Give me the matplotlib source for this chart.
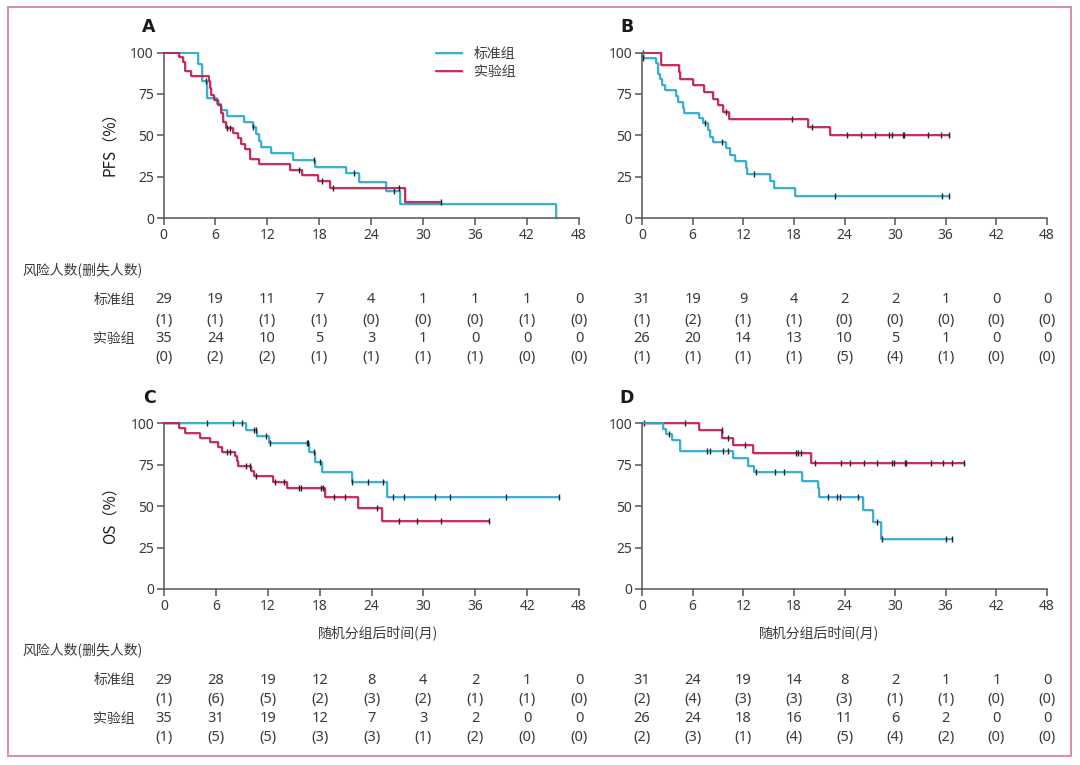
import matplotlib
matplotlib.use("Agg")
import matplotlib.pyplot as plt
import matplotlib.patheffects as pe
from matplotlib import font_manager
from matplotlib.patches import Rectangle
from matplotlib.transforms import blended_transform_factory
import numpy as np

W, H = 1080, 765
CJK = "Noto Sans CJK SC"
NUM = "Noto Sans"
_installed = {f.name for f in font_manager.fontManager.ttflist}
NARROW = "Liberation Sans Narrow" if "Liberation Sans Narrow" in _installed else NUM

CYAN = "#2aaad0"
RED = "#c51d4f"
INK = "#3a3a3a"
GROUPS = ["标准组", "实验组"]
MONTH_TICKS = [0, 6, 12, 18, 24, 30, 36, 42, 48]
PCT_TICKS = [0, 25, 50, 75, 100]

# --- A: PFS ---
a_std_t = [0, 3.95, 4.45, 5.0, 6.2, 6.7, 7.3, 9.3, 10.3, 10.65, 11.03, 11.26, 12.38, 15.0, 17.5, 21.08, 22.6, 25.7, 27.3, 45.3]
a_std_s = [100, 93.1, 82.8, 72.4, 68.9, 65.5, 61.9, 58.2, 55.0, 50.6, 46.5, 43.1, 39.1, 35.0, 31.0, 27.0, 21.5, 16.3, 8.2, 0]
a_std_cens = [4.9, 10.3, 17.4, 22.0, 26.6]
a_exp_t = [0, 1.79, 2.29, 2.48, 3.14, 5.2, 5.37, 5.49, 5.87, 6.26, 6.6, 6.91, 7.18, 7.99, 8.57, 8.91, 9.41, 9.99,
           11.03, 14.61, 15.96, 17.89, 19.23, 27.9, 32.1]
a_exp_s = [100, 97.1, 94.3, 88.6, 85.7, 82.8, 78.3, 74.3, 71.4, 68.3, 63.2, 58.2, 54.6, 51.6, 48.1, 44.7, 41.5, 35.4,
           32.6, 29.0, 26.0, 22.6, 17.9, 9.5, 9.5]
a_exp_cens = [7.35, 7.7, 15.7, 18.3, 19.6, 27.2, 32.1]

# --- B: PFS ---
b_std_t = [0, 0.1, 1.66, 1.93, 2.1, 2.33, 2.72, 4.03, 4.3, 4.9, 5.0, 6.8, 7.27, 7.86, 8.06, 8.4, 9.96, 10.4, 11.0,
           12.33, 12.5, 15.17, 15.6, 18.13, 36.4]
b_std_s = [100, 96.8, 93.5, 87.1, 83.9, 80.6, 77.4, 73.5, 70.0, 66.5, 63.2, 60.6, 57.2, 53.2, 49.2, 45.7, 42.1, 38.1,
           34.4, 30.4, 26.8, 22.5, 17.9, 13.3, 13.3]
b_std_cens = [0.15, 7.45, 9.45, 13.3, 22.9, 35.6, 36.4]
b_exp_t = [0, 2.21, 4.35, 4.5, 6.08, 7.35, 8.45, 9.0, 9.64, 10.27, 19.7, 22.3, 36.4]
b_exp_s = [100, 92.3, 88.2, 84.1, 80.1, 76.1, 72.0, 68.0, 63.9, 59.8, 55.2, 50.2, 50.2]
b_exp_cens = [0.15, 10.0, 17.8, 20.2, 24.3, 26.0, 27.6, 29.3, 29.6, 30.9, 31.0, 33.9, 35.4, 36.4]

# --- C: OS ---
c_std_t = [0, 9.48, 10.7, 12.1, 16.8, 17.47, 18.27, 21.7, 25.75, 45.7]
c_std_s = [100, 96.0, 92.3, 87.9, 82.5, 76.8, 70.4, 64.4, 55.7, 55.7]
c_std_cens = [5.0, 8.0, 9.0, 10.4, 10.6, 11.8, 12.3, 16.5, 16.65, 17.3, 18.1, 21.8, 23.6, 25.3, 26.5, 27.8,
              31.3, 33.1, 39.6, 45.7]
c_exp_t = [0, 1.73, 2.43, 4.16, 5.32, 6.2, 6.67, 8.2, 8.4, 8.6, 10.1, 10.45, 12.65, 14.26, 18.6, 22.4, 25.2, 37.6]
c_exp_s = [100, 97.1, 94.2, 91.3, 88.5, 85.6, 82.8, 80.0, 77.1, 74.3, 71.4, 68.1, 64.8, 61.2, 55.7, 48.7, 41.0, 41.0]
c_exp_cens = [7.3, 7.6, 9.5, 9.9, 10.6, 12.8, 13.9, 15.65, 15.9, 18.2, 18.4, 19.7, 20.9, 24.6, 27.2, 29.3,
              32.0, 37.6]

# --- D: OS ---
d_std_t = [0, 2.53, 2.9, 3.6, 4.5, 10.8, 12.6, 13.3, 19.0, 20.9, 21.0, 26.2, 27.4, 28.3, 36.7]
d_std_s = [100, 96.8, 93.5, 90.0, 83.3, 78.9, 74.5, 70.4, 65.4, 60.7, 55.7, 47.7, 40.2, 30.0, 30.0]
d_std_cens = [3.24, 7.7, 8.1, 9.6, 10.2, 13.5, 15.8, 16.8, 22.0, 23.1, 23.5, 25.6, 27.9, 28.4, 36.0, 36.7]
d_exp_t = [0, 6.8, 9.52, 10.75, 13.2, 20.0, 38.2]
d_exp_s = [100, 96.0, 91.3, 86.9, 81.9, 76.3, 76.3]
d_exp_cens = [0.2, 5.1, 9.45, 10.2, 12.2, 18.2, 18.5, 18.8, 20.5, 23.6, 24.6, 26.3, 27.9, 29.6, 29.9, 31.2,
              31.3, 34.2, 35.7, 36.7, 38.2]

# --- numbers at risk (censored) ---
a_risk_std = [29, 19, 11, 7, 4, 1, 1, 1, 0]
a_cens_std = [1, 1, 1, 1, 0, 0, 0, 1, 0]
a_risk_exp = [35, 24, 10, 5, 3, 1, 0, 0, 0]
a_cens_exp = [0, 2, 2, 1, 1, 1, 1, 0, 0]
b_risk_std = [31, 19, 9, 4, 2, 2, 1, 0, 0]
b_cens_std = [1, 2, 1, 1, 0, 0, 0, 0, 0]
b_risk_exp = [26, 20, 14, 13, 10, 5, 1, 0, 0]
b_cens_exp = [1, 1, 1, 1, 5, 4, 1, 0, 0]
c_risk_std = [29, 28, 19, 12, 8, 4, 2, 1, 0]
c_cens_std = [1, 6, 5, 2, 3, 2, 1, 1, 0]
c_risk_exp = [35, 31, 19, 12, 7, 3, 2, 0, 0]
c_cens_exp = [1, 5, 5, 3, 3, 1, 2, 0, 0]
d_risk_std = [31, 24, 19, 14, 8, 2, 1, 1, 0]
d_cens_std = [2, 4, 3, 3, 3, 1, 1, 0, 0]
d_risk_exp = [26, 24, 18, 16, 11, 6, 2, 0, 0]
d_cens_exp = [2, 3, 1, 4, 5, 4, 2, 0, 0]


def fx(x):
    return x / W


def fy(y):
    return 1 - y / H


def km_curve(ax, t, s, cens, color, label):
    line, = ax.plot(t, s, drawstyle="steps-post", color=color, lw=1.3, clip_on=False, label=label,
                    path_effects=[pe.SimpleLineShadow(offset=(0.7, -0.7), shadow_color=color, alpha=0.3),
                                  pe.Normal()])
    t_arr, s_arr = np.asarray(t), np.asarray(s)
    idx = np.searchsorted(t_arr, cens, side="right") - 1
    ax.plot(cens, s_arr[idx], ls="none", marker="|", ms=4.5, mew=1.0, color="#222222", clip_on=False)
    return line


def panel(fig, box, letter, ylabel, curves, xlabel_x=None):
    x0, x1, ytop, ybot = box
    ax = fig.add_axes([fx(x0), fy(ybot), fx(x1 - x0), (ybot - ytop) / H])
    lines = [km_curve(ax, *c) for c in curves]
    ax.set_xlim(0, 48)
    ax.set_ylim(0, 100)
    ax.set_xticks(MONTH_TICKS)
    ax.set_yticks(PCT_TICKS)
    for side in ("top", "right"):
        ax.spines[side].set_visible(False)
    for side in ("left", "bottom"):
        ax.spines[side].set_color("#555555")
        ax.spines[side].set_linewidth(1.1)
    ax.tick_params(length=5, width=1.1, color="#555555", labelcolor=INK, labelsize=10, pad=2)
    for lab in ax.get_xticklabels() + ax.get_yticklabels():
        lab.set_family(NUM)
    fig.text(fx(x0 - 15), fy(ytop - 25), letter, fontsize=12.5, fontweight="bold", family="DejaVu Sans",
             ha="center", va="center", color="#1a1a1a")
    if ylabel:
        fig.text(fx(110), fy((ytop + ybot) / 2 + 5), ylabel, rotation=90, fontsize=11, family=[CJK],
                 ha="center", va="center", color="#1a1a1a")
    if xlabel_x is not None:
        fig.text(fx(xlabel_x), fy(633), "随机分组后时间(月)", fontsize=10, family=[CJK],
                 ha="center", va="center", color=INK)
    return ax, lines


def risk_table(fig, ax, rows_y, risk_std, cens_std, risk_exp, cens_exp):
    tr = blended_transform_factory(ax.transData, fig.transFigure)
    rows = [risk_std, [f"({v})" for v in cens_std], risk_exp, [f"({v})" for v in cens_exp]]
    for y, row in zip(rows_y, rows):
        for m, v in zip(MONTH_TICKS, row):
            fig.text(m, fy(y), str(v), transform=tr, ha="center", va="center", fontsize=10.5,
                     family=NARROW, color=INK)


def table_labels(fig, header_y, rows_y):
    fig.text(fx(22), fy(header_y), "风险人数(删失人数)", fontsize=10, family=[CJK], ha="left",
             va="center", color=INK)
    for name, y in zip(GROUPS, (rows_y[0], rows_y[2])):
        fig.text(fx(135), fy(y), name, fontsize=10, family=[CJK], ha="right", va="center", color=INK)


fig = plt.figure(figsize=(W / 100, H / 100), dpi=100)

ax_a, lines_a = panel(fig, (163.5, 579, 52.5, 218), "A", "PFS（%）",
                      [(a_std_t, a_std_s, a_std_cens, CYAN, GROUPS[0]),
                       (a_exp_t, a_exp_s, a_exp_cens, RED, GROUPS[1])])
ax_b, _ = panel(fig, (642, 1047, 52.5, 218), "B", None,
                [(b_exp_t, b_exp_s, b_exp_cens, RED, GROUPS[1]),
                 (b_std_t, b_std_s, b_std_cens, CYAN, GROUPS[0])])
ax_c, _ = panel(fig, (164, 579, 423.3, 589), "C", "OS（%）",
                [(c_std_t, c_std_s, c_std_cens, CYAN, GROUPS[0]),
                 (c_exp_t, c_exp_s, c_exp_cens, RED, GROUPS[1])], xlabel_x=378)
ax_d, _ = panel(fig, (642, 1047, 423.3, 589), "D", None,
                [(d_exp_t, d_exp_s, d_exp_cens, RED, GROUPS[1]),
                 (d_std_t, d_std_s, d_std_cens, CYAN, GROUPS[0])], xlabel_x=819)

leg = ax_a.legend(handles=lines_a, loc="upper left", bbox_to_anchor=(fx(436), fy(47)),
                  bbox_transform=fig.transFigure, frameon=False, handlelength=1.9, handletextpad=0.8,
                  borderpad=0, borderaxespad=0, labelspacing=0.3, prop={"family": CJK, "size": 10})
for txt in leg.get_texts():
    txt.set_color(INK)

top_rows = [300, 320, 339, 358]
bot_rows = [680, 700, 719, 738]
table_labels(fig, 270, top_rows)
table_labels(fig, 650, bot_rows)
risk_table(fig, ax_a, top_rows, a_risk_std, a_cens_std, a_risk_exp, a_cens_exp)
risk_table(fig, ax_b, top_rows, b_risk_std, b_cens_std, b_risk_exp, b_cens_exp)
risk_table(fig, ax_c, bot_rows, c_risk_std, c_cens_std, c_risk_exp, c_cens_exp)
risk_table(fig, ax_d, bot_rows, d_risk_std, d_cens_std, d_risk_exp, d_cens_exp)

fig.patches.append(Rectangle((fx(8), fy(756)), fx(1071 - 8), (756 - 7) / H, transform=fig.transFigure,
                             fill=False, edgecolor="#dc8aa8", linewidth=1.4))

fig.savefig("out.png", dpi=100)
